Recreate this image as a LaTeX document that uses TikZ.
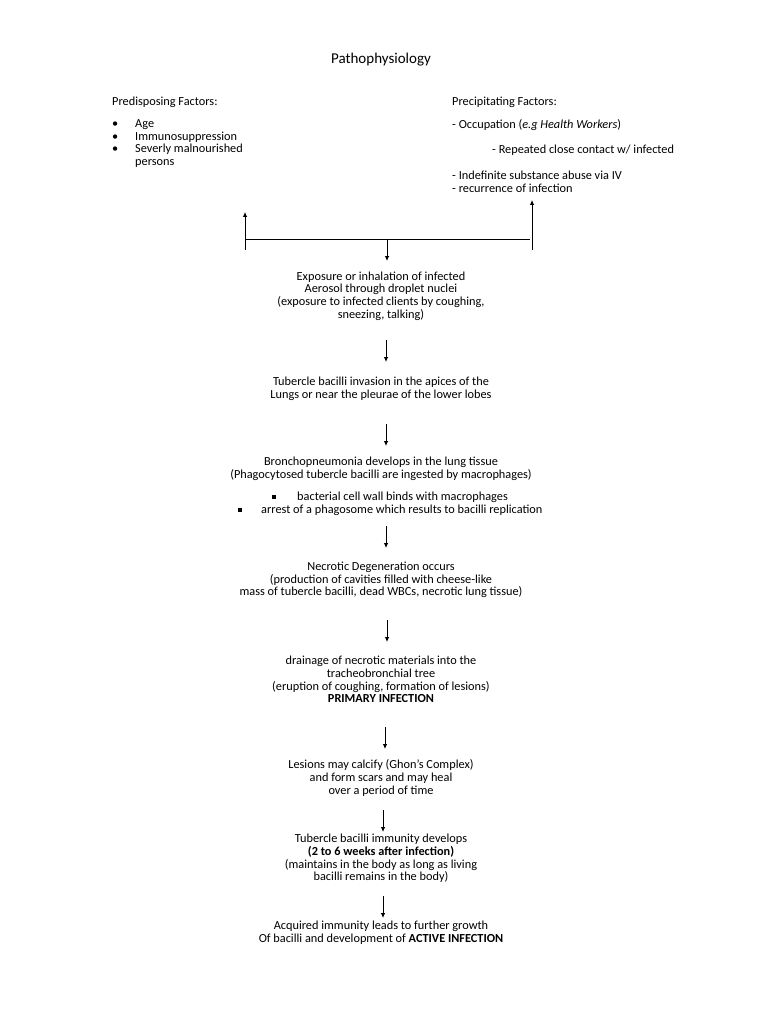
\documentclass[tikz,border=0pt]{standalone}
\usepackage{fontspec}
\setmainfont{Carlito}
\usetikzlibrary{arrows.meta}

\newcommand{\bodyfont}{\fontsize{12.3}{12.7}\selectfont}
\newcommand{\sqbul}{\raisebox{1.8pt}{\rule{3.6pt}{3.6pt}}}

\tikzset{
  txt/.style={font=\bodyfont, inner sep=0pt, align=center, text=black, yshift=-1.5pt},
  lefttxt/.style={font=\bodyfont, inner sep=0pt, anchor=west, text=black, yshift=-1.5pt},
  flow/.style={-{Latex[length=5pt,width=4.5pt]}, line width=0.8pt},
}

\begin{document}
\begin{tikzpicture}[x=1pt, y=-1pt]
  \useasboundingbox (0,0) rectangle (768,1024);

  % title
  \node[txt, font=\fontsize{15}{17}\selectfont] (title) at (381,58) {Pathophysiology};

  % left column
  \node[lefttxt] (predisp) at (112,101) {Predisposing Factors:};
  \node[lefttxt] (predlist) at (112,142.5) {%
    \begin{tabular}{@{}p{23pt}@{}l@{}}
      \textbullet & Age\\
      \textbullet & Immunosuppression\\
      \textbullet & Severly malnourished\\
                  & persons
    \end{tabular}};

  % right column
  \node[lefttxt] (precip) at (452,101) {Precipitating Factors:};
  \node[lefttxt] (occup) at (452,124) {- Occupation (\textit{e.g Health Workers})};
  \node[lefttxt] (repeat) at (492,149) {- Repeated close contact w/ infected};
  \node[lefttxt] (abuse) at (452,174) {- Indefinite substance abuse via IV};
  \node[lefttxt] (recur) at (452,186.5) {- recurrence of infection};

  % fork
  \coordinate (lbot) at (245,250);
  \coordinate (ltop) at (245,212);
  \coordinate (rbot) at (532,250);
  \coordinate (rtop) at (532,200);
  \coordinate (fork) at (387,239);
  \draw[flow] (lbot) -- (ltop);
  \draw[flow] (rbot) -- (rtop);
  \draw[line width=0.8pt] (lbot |- fork) -- (530,239);
  \draw[flow] (fork) -- (387,261);

  % flow
  \node[txt] (expo) at (381,294.5) {Exposure or inhalation of infected\\
    Aerosol through droplet nuclei\\
    (exposure to infected clients by coughing,\\
    sneezing, talking)};
  \node[txt] (invade) at (381,387) {Tubercle bacilli invasion in the apices of the\\
    Lungs or near the pleurae of the lower lobes};
  \node[txt] (broncho) at (381,467) {Bronchopneumonia develops in the lung tissue\\
    (Phagocytosed tubercle bacilli are ingested by macrophages)};
  \node[lefttxt] (bind) at (272,496) {\makebox[25pt][l]{\sqbul}bacterial cell wall binds with macrophages};
  \node[lefttxt] (arrest) at (238,509) {\makebox[23pt][l]{\sqbul}arrest of a phagosome which results to bacilli replication};
  \node[txt] (necro) at (381,578.5) {Necrotic Degeneration occurs\\
    (production of cavities filled with cheese-like\\
    mass of tubercle bacilli, dead WBCs, necrotic lung tissue)};
  \node[txt] (drain) at (381,678) {drainage of necrotic materials into the\\
    tracheobronchial tree\\
    (eruption of coughing, formation of lesions)\\
    \textbf{PRIMARY INFECTION}};
  \node[txt] (lesion) at (381,776.5) {Lesions may calcify (Ghon’s Complex)\\
    and form scars and may heal\\
    over a period of time};
  \node[txt] (immun) at (381,857) {Tubercle bacilli immunity develops\\
    \textbf{(2 to 6 weeks after infection)}\\
    (maintains in the body as long as living\\
    bacilli remains in the body)};
  \node[txt] (acquired) at (381,931.5) {Acquired immunity leads to further growth\\
    Of bacilli and development of \textbf{ACTIVE INFECTION}};

  % arrows between steps
  \draw[flow] (386,340) -- (386,362);
  \draw[flow] (386,424) -- (386,446);
  \draw[flow] (386,526) -- (386,548);
  \draw[flow] (387,620) -- (387,642);
  \draw[flow] (385,727) -- (385,749);
  \draw[flow] (383,810) -- (383,832);
  \draw[flow] (383,896) -- (383,918);
\end{tikzpicture}
\end{document}
